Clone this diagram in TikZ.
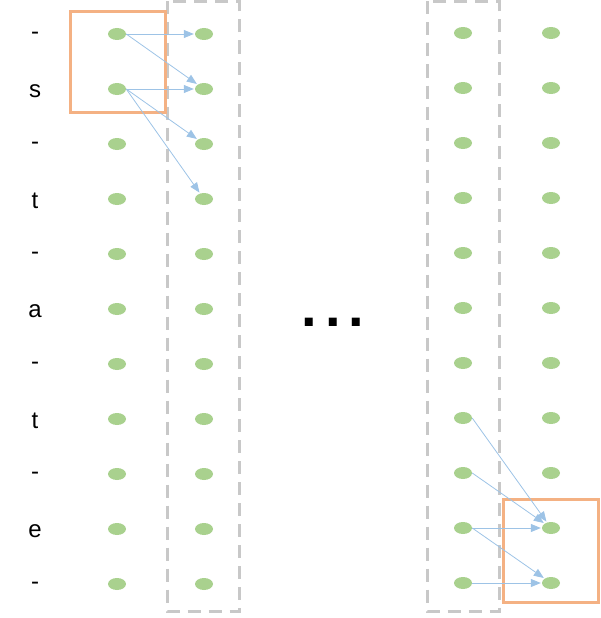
\documentclass[tikz,border=0pt]{standalone}
\usepackage{fontspec}
\setmainfont{Liberation Sans}
\usetikzlibrary{arrows.meta,shapes.geometric}
\definecolor{gr}{HTML}{A9D18E}
\definecolor{bl}{HTML}{9DC3E6}
\definecolor{og}{HTML}{F4B183}
\definecolor{dg}{HTML}{C8C8C8}
\begin{document}
\begin{tikzpicture}[x=1pt,y=-1pt,
  dot/.style={ellipse,fill=gr,minimum width=18pt,minimum height=12pt,inner sep=0pt},
  lab/.style={font=\fontsize{24}{26}\selectfont},
  arr/.style={draw=bl,line width=0.8pt,-{Triangle[length=10pt,width=8pt,fill=bl]},shorten >=1pt},
  dbox/.style={draw=dg,line width=3pt,dash pattern=on 13pt off 8pt},
  obox/.style={draw=og,line width=3pt}]
\useasboundingbox (0,0) rectangle (600,618);
\draw[dbox] (167,1.5) rectangle (239,611);
\draw[dbox] (427,1.5) rectangle (499,611);
\foreach \t [count=\i from 0] in {-,s,-,t,-,a,-,t,-,e,-}{
  \node[lab] (l\i) at (35,{36+55*\i}) {\t};
  \node[dot] (a\i) at (117,{34+55*\i}) {};
  \node[dot] (b\i) at (204,{34+55*\i}) {};
  \node[dot] (c\i) at (463,{33+55*\i}) {};
  \node[dot] (d\i) at (551,{33+55*\i}) {};
}
\draw[obox] (70,12) rectangle (165,112);
\draw[obox] (503,499) rectangle (598,602);
\node[font=\fontsize{56}{56}\selectfont\bfseries] (dots) at (333,322) {.\hspace{8pt}.\hspace{8pt}.};
\draw[arr] (a0.east) -- (b0);
\draw[arr] (a0.east) -- (b1);
\draw[arr] (a1.east) -- (b1);
\draw[arr] (a1.east) -- (b2);
\draw[arr] (a1.east) -- (b3);
\draw[arr] (c7.east) -- (d9);
\draw[arr] (c8.east) -- (d9);
\draw[arr] (c9.east) -- (d9);
\draw[arr] (c9.east) -- (d10);
\draw[arr] (c10.east) -- (d10);
\end{tikzpicture}
\end{document}
